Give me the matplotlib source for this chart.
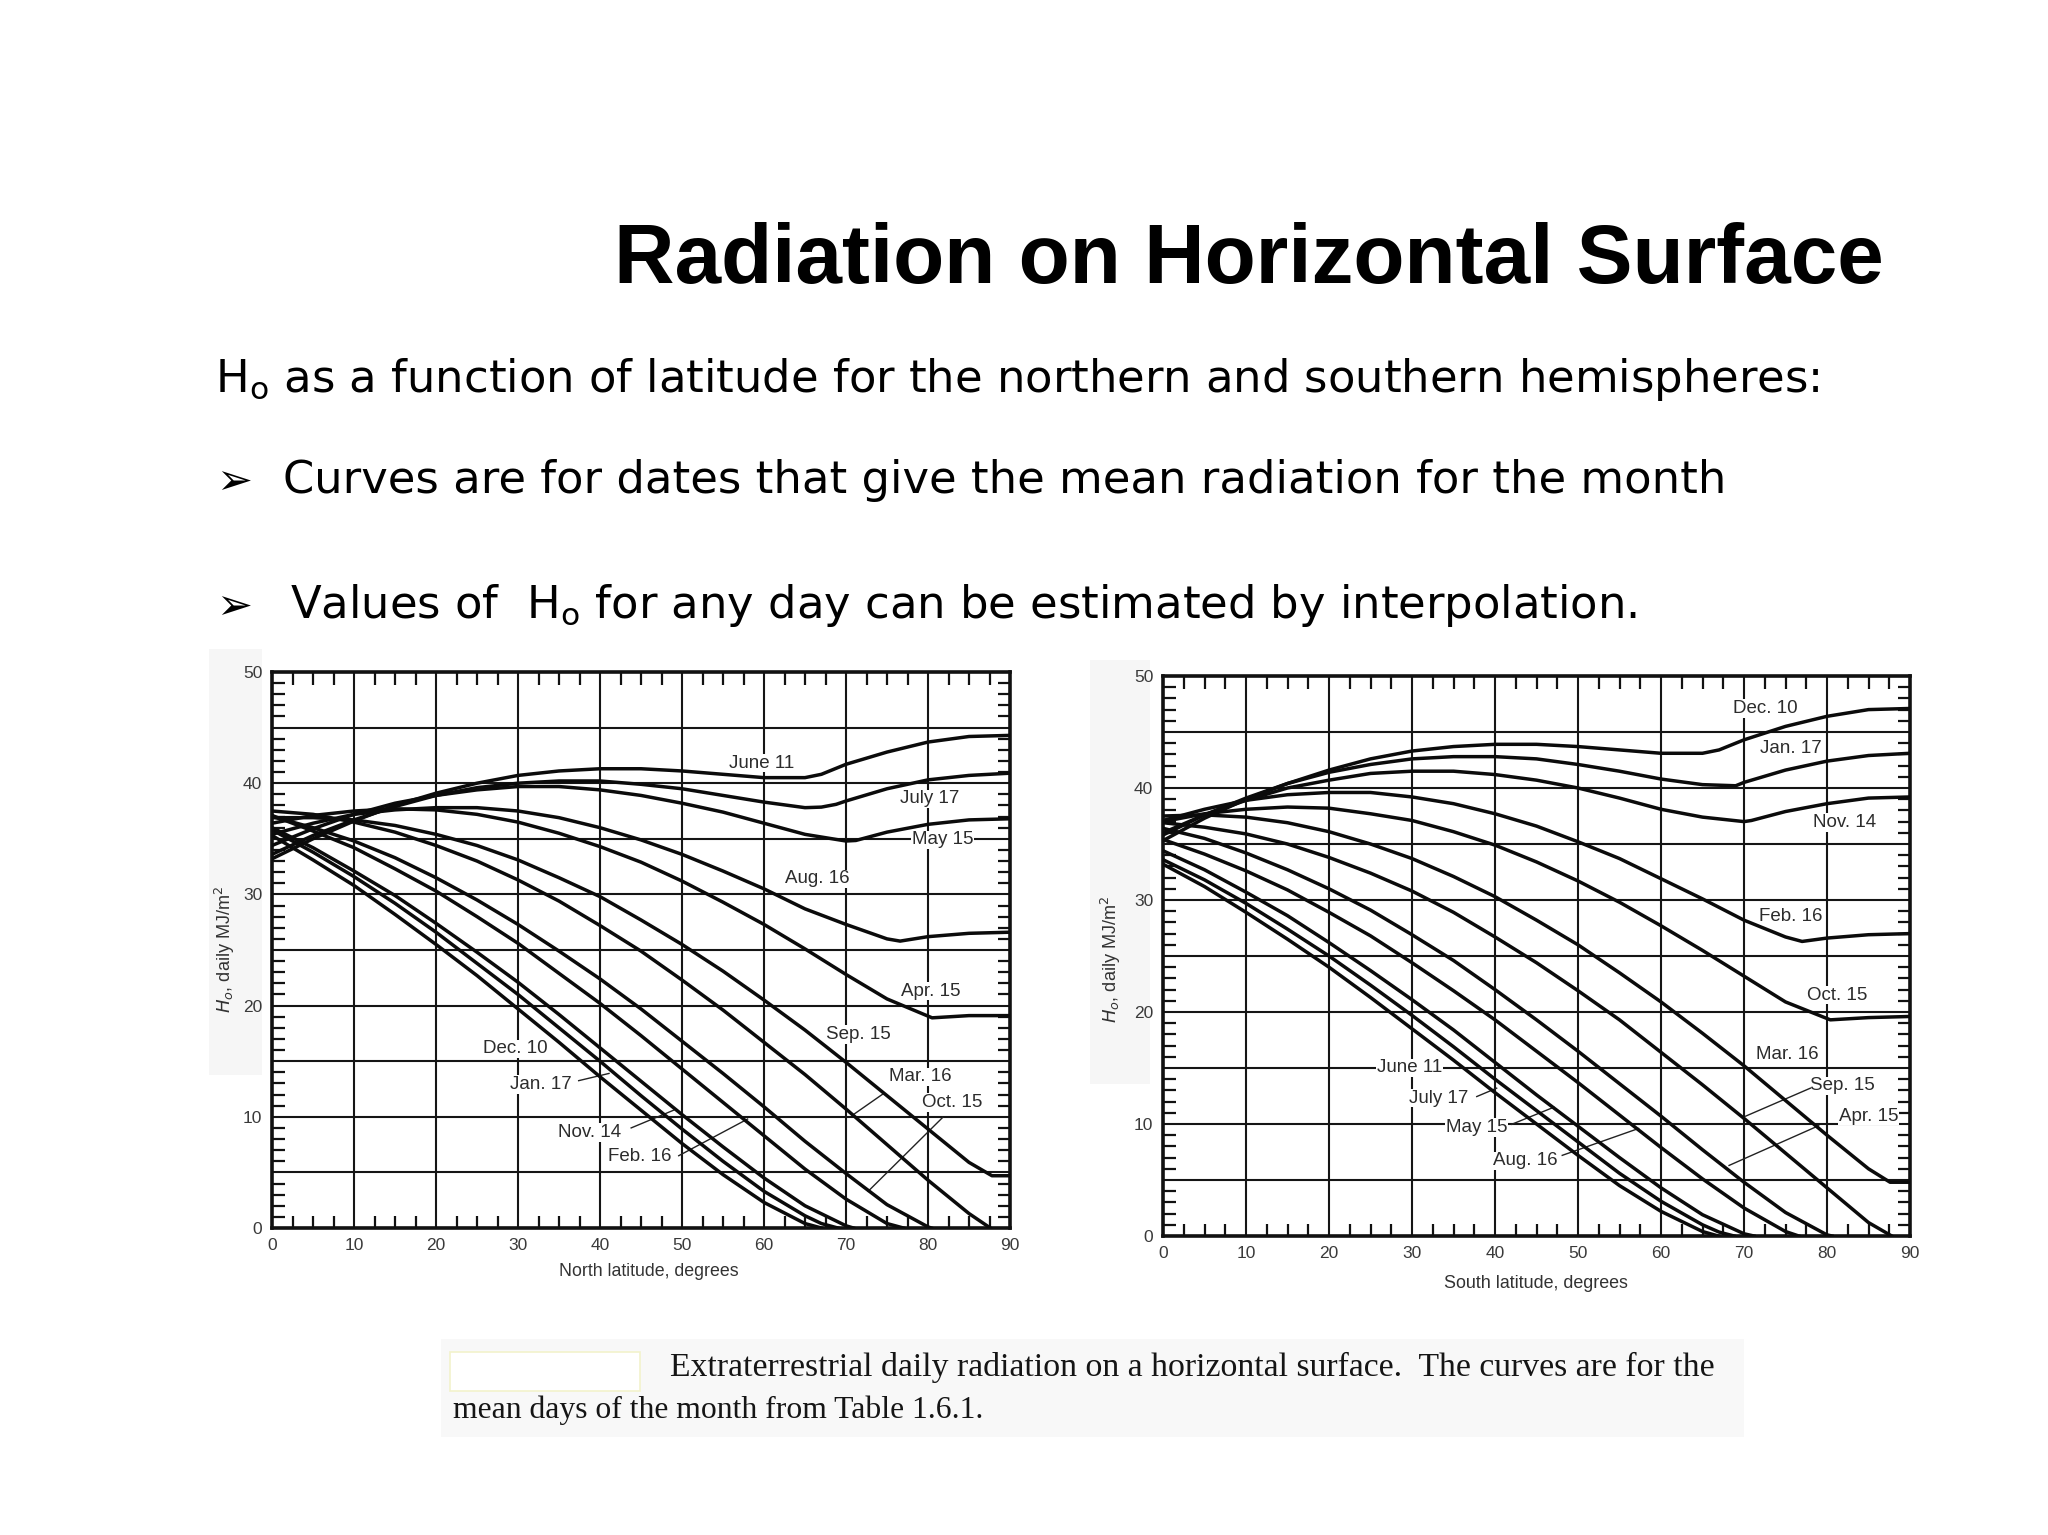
import numpy as np
import matplotlib
matplotlib.use("Agg")
import matplotlib.pyplot as plt
from matplotlib.patches import Rectangle

# ---------------- text content ----------------
title_text = "Radiation on Horizontal Surface"
subtitle_text = "H$_\\mathregular{o}$ as a function of latitude for the northern and southern hemispheres:"
bullet1_text = "Curves are for dates that give the mean radiation for the month"
bullet2_text = "Values of  H$_\\mathregular{o}$ for any day can be estimated by interpolation."
caption_line1 = "Extraterrestrial daily radiation on a horizontal surface.  The curves are for the"
caption_line2 = "mean days of the month from Table 1.6.1."
north_xlabel = "North latitude, degrees"
south_xlabel = "South latitude, degrees"
ylabel_text = "$H_o$, daily MJ/m$^2$"
x_ticks = [0, 10, 20, 30, 40, 50, 60, 70, 80, 90]
y_ticks = [0, 10, 20, 30, 40, 50]

# ---------------- northern hemisphere curves (latitude, H_o MJ/m2) ----------------
n_jun11_lat = [0, 5, 10, 15, 20, 25, 30, 35, 40, 45, 50, 55, 60, 65, 67, 70, 75, 80, 85, 90]
n_jun11_h = [33.2, 35.0, 36.6, 38.0, 39.1, 40.0, 40.7, 41.1, 41.3, 41.3, 41.1, 40.8, 40.5, 40.5, 40.8, 41.7, 42.8, 43.7, 44.2, 44.3]
n_jul17_lat = [0, 5, 10, 15, 20, 25, 30, 35, 40, 45, 50, 55, 60, 65, 67, 68.8, 70, 75, 80, 85, 90]
n_jul17_h = [33.6, 35.3, 36.7, 37.9, 38.9, 39.6, 40.0, 40.2, 40.2, 39.9, 39.5, 38.9, 38.3, 37.8, 37.85, 38.1, 38.4, 39.5, 40.3, 40.7, 40.9]
n_may15_lat = [0, 5, 10, 15, 20, 25, 30, 35, 40, 45, 50, 55, 60, 65, 70, 71.2, 75, 80, 85, 90]
n_may15_h = [34.4, 35.9, 37.2, 38.2, 38.9, 39.4, 39.7, 39.7, 39.4, 38.9, 38.2, 37.4, 36.4, 35.4, 34.8, 34.85, 35.6, 36.3, 36.7, 36.8]
n_aug16_lat = [0, 5, 10, 15, 20, 25, 30, 35, 40, 45, 50, 55, 60, 65, 70, 75, 76.6, 80, 85, 90]
n_aug16_h = [35.4, 36.4, 37.2, 37.6, 37.8, 37.8, 37.5, 36.9, 36.0, 34.9, 33.6, 32.1, 30.5, 28.7, 27.3, 26.0, 25.8, 26.2, 26.5, 26.6]
n_apr15_lat = [0, 5, 10, 15, 20, 25, 30, 35, 40, 45, 50, 55, 60, 65, 70, 75, 80.5, 85, 90]
n_apr15_h = [36.4, 37.1, 37.5, 37.7, 37.6, 37.2, 36.5, 35.5, 34.3, 32.9, 31.2, 29.3, 27.3, 25.1, 22.8, 20.6, 18.9, 19.1, 19.1]
n_sep15_lat = [0, 5, 10, 15, 20, 25, 30, 35, 40, 45, 50, 55, 60, 65, 70, 75, 80, 85, 87.8, 90]
n_sep15_h = [36.9, 36.9, 36.7, 36.2, 35.4, 34.4, 33.1, 31.5, 29.8, 27.7, 25.5, 23.1, 20.5, 17.8, 14.9, 11.9, 8.9, 5.9, 4.7, 4.7]
n_mar16_lat = [0, 5, 10, 15, 20, 25, 30, 35, 40, 45, 50, 55, 60, 65, 70, 75, 80, 85, 87.6]
n_mar16_h = [37.5, 37.2, 36.5, 35.6, 34.4, 33.0, 31.3, 29.4, 27.2, 24.9, 22.3, 19.6, 16.7, 13.8, 10.7, 7.5, 4.3, 1.3, 0.0]
n_oct15_lat = [0, 5, 10, 15, 20, 25, 30, 35, 40, 45, 50, 55, 60, 65, 70, 75, 80, 80.4]
n_oct15_h = [37.0, 36.0, 34.8, 33.3, 31.5, 29.5, 27.3, 24.9, 22.4, 19.7, 16.8, 13.9, 10.9, 7.8, 4.9, 2.1, 0.1, 0.0]
n_feb16_lat = [0, 5, 10, 15, 20, 25, 30, 35, 40, 45, 50, 55, 60, 65, 70, 75, 77]
n_feb16_h = [37.1, 35.7, 34.2, 32.3, 30.3, 28.0, 25.6, 22.9, 20.2, 17.3, 14.3, 11.3, 8.3, 5.3, 2.6, 0.4, 0.0]
n_nov14_lat = [0, 5, 10, 15, 20, 25, 30, 35, 40, 45, 50, 55, 60, 65, 70, 70.9]
n_nov14_h = [36.0, 34.2, 32.1, 29.9, 27.4, 24.8, 22.1, 19.2, 16.2, 13.2, 10.2, 7.3, 4.5, 2.0, 0.2, 0.0]
n_jan17_lat = [0, 5, 10, 15, 20, 25, 30, 35, 40, 45, 50, 55, 60, 65, 67, 69]
n_jan17_h = [35.8, 33.8, 31.6, 29.2, 26.6, 23.8, 21.0, 18.0, 15.0, 11.9, 8.9, 6.0, 3.3, 1.1, 0.4, 0.0]
n_dec10_lat = [0, 5, 10, 15, 20, 25, 30, 35, 40, 45, 50, 55, 60, 65, 67]
n_dec10_h = [35.3, 33.1, 30.8, 28.2, 25.5, 22.7, 19.7, 16.7, 13.6, 10.6, 7.6, 4.8, 2.3, 0.4, 0.0]

# ---------------- southern hemisphere curves ----------------
s_dec10_lat = [0, 5, 10, 15, 20, 25, 30, 35, 40, 45, 50, 55, 60, 65, 67, 70, 75, 80, 85, 90]
s_dec10_h = [35.3, 37.3, 39.0, 40.4, 41.6, 42.6, 43.3, 43.7, 43.9, 43.9, 43.7, 43.4, 43.1, 43.1, 43.4, 44.3, 45.5, 46.4, 47.0, 47.1]
s_jan17_lat = [0, 5, 10, 15, 20, 25, 30, 35, 40, 45, 50, 55, 60, 65, 69, 70, 75, 80, 85, 90]
s_jan17_h = [35.8, 37.6, 39.1, 40.4, 41.4, 42.1, 42.6, 42.8, 42.8, 42.6, 42.1, 41.5, 40.8, 40.3, 40.2, 40.5, 41.6, 42.4, 42.9, 43.1]
s_nov14_lat = [0, 5, 10, 15, 20, 25, 30, 35, 40, 45, 50, 55, 60, 65, 70, 70.9, 75, 80, 85, 90]
s_nov14_h = [36.0, 37.6, 38.9, 40.0, 40.7, 41.3, 41.5, 41.5, 41.2, 40.7, 40.0, 39.1, 38.1, 37.4, 37.0, 37.1, 37.9, 38.6, 39.1, 39.2]
s_feb16_lat = [0, 5, 10, 15, 20, 25, 30, 35, 40, 45, 50, 55, 60, 65, 70, 75, 77, 80, 85, 90]
s_feb16_h = [37.1, 38.1, 38.9, 39.4, 39.6, 39.6, 39.2, 38.6, 37.7, 36.6, 35.2, 33.7, 31.9, 30.1, 28.2, 26.7, 26.3, 26.6, 26.9, 27.0]
s_oct15_lat = [0, 5, 10, 15, 20, 25, 30, 35, 40, 45, 50, 55, 60, 65, 70, 75, 80.4, 85, 90]
s_oct15_h = [37.0, 37.7, 38.1, 38.3, 38.2, 37.7, 37.1, 36.1, 34.9, 33.4, 31.7, 29.8, 27.7, 25.5, 23.2, 20.9, 19.3, 19.5, 19.6]
s_mar16_lat = [0, 5, 10, 15, 20, 25, 30, 35, 40, 45, 50, 55, 60, 65, 70, 75, 80, 85, 87.6, 90]
s_mar16_h = [37.5, 37.6, 37.4, 36.9, 36.1, 35.0, 33.7, 32.1, 30.3, 28.2, 26.0, 23.5, 20.9, 18.1, 15.2, 12.1, 9.0, 6.0, 4.8, 4.8]
s_sep15_lat = [0, 5, 10, 15, 20, 25, 30, 35, 40, 45, 50, 55, 60, 65, 70, 75, 80, 85, 87.8]
s_sep15_h = [36.9, 36.5, 35.9, 35.0, 33.8, 32.4, 30.8, 28.9, 26.7, 24.4, 21.9, 19.3, 16.4, 13.5, 10.5, 7.4, 4.3, 1.2, 0.0]
s_apr15_lat = [0, 5, 10, 15, 20, 25, 30, 35, 40, 45, 50, 55, 60, 65, 70, 75, 80, 80.6]
s_apr15_h = [36.4, 35.5, 34.2, 32.7, 31.0, 29.1, 26.9, 24.6, 22.0, 19.3, 16.5, 13.6, 10.7, 7.7, 4.8, 2.1, 0.1, 0.0]
s_aug16_lat = [0, 5, 10, 15, 20, 25, 30, 35, 40, 45, 50, 55, 60, 65, 70, 75, 76.6]
s_aug16_h = [35.4, 34.1, 32.6, 30.9, 28.9, 26.8, 24.4, 21.9, 19.3, 16.5, 13.7, 10.8, 7.9, 5.1, 2.5, 0.4, 0.0]
s_may15_lat = [0, 5, 10, 15, 20, 25, 30, 35, 40, 45, 50, 55, 60, 65, 70, 71.2]
s_may15_h = [34.4, 32.7, 30.7, 28.6, 26.2, 23.7, 21.1, 18.4, 15.5, 12.6, 9.8, 7.0, 4.3, 1.9, 0.2, 0.0]
s_jul17_lat = [0, 5, 10, 15, 20, 25, 30, 35, 40, 45, 50, 55, 60, 65, 67, 68.8]
s_jul17_h = [33.6, 31.8, 29.7, 27.4, 25.0, 22.4, 19.7, 16.9, 14.0, 11.2, 8.4, 5.6, 3.1, 1.0, 0.35, 0.0]
s_jun11_lat = [0, 5, 10, 15, 20, 25, 30, 35, 40, 45, 50, 55, 60, 65, 66.9]
s_jun11_h = [33.2, 31.2, 28.9, 26.5, 24.0, 21.3, 18.5, 15.7, 12.8, 10.0, 7.2, 4.5, 2.2, 0.4, 0.0]

north_curves = [
    (n_jun11_lat, n_jun11_h), (n_jul17_lat, n_jul17_h), (n_may15_lat, n_may15_h),
    (n_aug16_lat, n_aug16_h), (n_apr15_lat, n_apr15_h), (n_sep15_lat, n_sep15_h),
    (n_mar16_lat, n_mar16_h), (n_oct15_lat, n_oct15_h), (n_feb16_lat, n_feb16_h),
    (n_nov14_lat, n_nov14_h), (n_jan17_lat, n_jan17_h), (n_dec10_lat, n_dec10_h),
]
south_curves = [
    (s_dec10_lat, s_dec10_h), (s_jan17_lat, s_jan17_h), (s_nov14_lat, s_nov14_h),
    (s_feb16_lat, s_feb16_h), (s_oct15_lat, s_oct15_h), (s_mar16_lat, s_mar16_h),
    (s_sep15_lat, s_sep15_h), (s_apr15_lat, s_apr15_h), (s_aug16_lat, s_aug16_h),
    (s_may15_lat, s_may15_h), (s_jul17_lat, s_jul17_h), (s_jun11_lat, s_jun11_h),
]

# curve labels: text, label position, optional leader (from -> to)
north_labels = [
    ("June 11", (59.7, 41.8), None),
    ("July 17", (80.2, 38.6), None),
    ("May 15", (81.8, 34.9), None),
    ("Aug. 16", (66.5, 31.4), None),
    ("Apr. 15", (80.3, 21.3), None),
    ("Sep. 15", (71.5, 17.4), None),
    ("Mar. 16", (79.1, 13.6), ((74.5, 12.05), (71.0, 10.25))),
    ("Oct. 15", (83.0, 11.3), ((81.8, 9.95), (72.7, 3.3))),
    ("Dec. 10", (29.7, 16.1), None),
    ("Jan. 17", (32.8, 12.9), ((37.4, 13.25), (41.1, 13.9))),
    ("Nov. 14", (38.7, 8.6), ((43.8, 9.0), (49.0, 10.6))),
    ("Feb. 16", (44.9, 6.4), ((49.6, 6.5), (58.0, 9.8))),
]
south_labels = [
    ("Dec. 10", (72.6, 47.1), None),
    ("Jan. 17", (75.6, 43.5), None),
    ("Nov. 14", (82.1, 36.9), None),
    ("Feb. 16", (75.6, 28.5), None),
    ("Oct. 15", (81.2, 21.5), None),
    ("Mar. 16", (75.2, 16.2), None),
    ("Sep. 15", (81.8, 13.4), ((78.0, 13.2), (70.2, 10.7))),
    ("Apr. 15", (85.0, 10.7), ((79.0, 9.85), (68.2, 6.3))),
    ("June 11", (29.7, 15.0), None),
    ("July 17", (33.2, 12.3), ((37.8, 12.45), (40.2, 13.2))),
    ("May 15", (37.8, 9.7), ((42.0, 9.97), (47.1, 11.5))),
    ("Aug. 16", (43.6, 6.7), ((48.1, 7.2), (57.3, 9.6))),
]

# ---------------- figure ----------------
W, H = 2048, 1535
plt.rcParams['mathtext.fontset'] = 'dejavusans'
fig = plt.figure(figsize=(W / 100, H / 100), dpi=100)
fig.patch.set_facecolor('white')
renderer = fig.canvas.get_renderer()


def fx(x):
    return x / W


def fy(y):
    return 1 - y / H


def fit_text(x, y, s, length_px, size0=20, **kw):
    t = fig.text(fx(x), fy(y), s, fontsize=size0, **kw)
    bb = t.get_window_extent(renderer=renderer)
    ln = max(bb.width, bb.height) if kw.get('rotation', 0) else bb.width
    t.set_fontsize(size0 * length_px / ln)
    return t


def add_rect(x0, y0, x1, y1, **kw):
    fig.patches.append(Rectangle((fx(x0), fy(y1)), (x1 - x0) / W, (y1 - y0) / H,
                                 transform=fig.transFigure, **kw))


# faint scan backgrounds (behind everything)
add_rect(209, 649, 262, 1075, facecolor='#f6f6f6', edgecolor='none', zorder=-10)
add_rect(1090, 660, 1150, 1084, facecolor='#f6f6f6', edgecolor='none', zorder=-10)
add_rect(441, 1339, 1744, 1437, facecolor='#f8f8f8', edgecolor='none', zorder=-10)
add_rect(450, 1352, 640, 1391, facecolor='white', edgecolor='#f2f2cc', lw=1.2, zorder=-9)

# slide text
body_font = ['DejaVu Sans']
fit_text(614, 283, title_text, 1271, family='Liberation Sans', weight='bold', va='baseline', ha='left')
fit_text(215, 392, subtitle_text, 1603, family=body_font, va='baseline', ha='left')
fig.text(fx(216), fy(494), "\u27a2", fontsize=31, family=body_font, va='baseline', ha='left')
fit_text(283, 493, bullet1_text, 1441, family=body_font, va='baseline', ha='left')
fig.text(fx(216), fy(619), "\u27a2", fontsize=31, family=body_font, va='baseline', ha='left')
fit_text(290, 618, bullet2_text, 1348, family=body_font, va='baseline', ha='left')

# caption
fit_text(670, 1376, caption_line1, 1045, family='Liberation Serif', color='#151515', va='baseline', ha='left')
fit_text(453, 1418, caption_line2, 529, family='Liberation Serif', color='#151515', va='baseline', ha='left')


def make_axes(px_left, px_top, px_right, px_bottom):
    ax = fig.add_axes([fx(px_left), fy(px_bottom), (px_right - px_left) / W, (px_bottom - px_top) / H])
    ax.set_xlim(0, 90)
    ax.set_ylim(0, 50)
    ax.set_xticks(x_ticks)
    ax.set_xticklabels([str(v) for v in x_ticks])
    ax.set_yticks(np.arange(0, 51, 5))
    ax.set_yticklabels([str(v) if v in y_ticks else '' for v in range(0, 51, 5)])
    ax.set_xticks(np.arange(0, 90.01, 2.5), minor=True)
    ax.set_yticks(np.arange(0, 51, 1), minor=True)
    ax.tick_params(which='major', length=0, labelsize=12.5, labelcolor='#3a3a3a', pad=7)
    ax.tick_params(which='minor', direction='in', length=9, width=1.6, color='#111111',
                   top=True, right=True, left=True, bottom=True)
    for lab in ax.get_xticklabels() + ax.get_yticklabels():
        lab.set_family('Liberation Sans')
    ax.grid(which='major', color='#151515', lw=1.5)
    ax.set_axisbelow(True)
    for sp in ax.spines.values():
        sp.set_linewidth(2.6)
        sp.set_color('#111111')
    return ax


def draw_chart(ax, curves, labels):
    for lat, h in curves:
        ax.plot(lat, h, color='#0b0b0b', lw=2.5, solid_joinstyle='round', zorder=3)
    for txt, (lx, ly), leader in labels:
        ax.text(lx, ly, txt, ha='center', va='center', fontsize=13.5, family='Liberation Sans',
                color='#2c2c2c', zorder=2.5,
                bbox=dict(facecolor='white', edgecolor='none', pad=0.6))
        if leader is not None:
            (x0, y0), (x1, y1) = leader
            ax.plot([x0, x1], [y0, y1], color='#222222', lw=1.0, zorder=2.6)


ax_n = make_axes(272, 672, 1010, 1228)
draw_chart(ax_n, north_curves, north_labels)
ax_s = make_axes(1163, 676, 1910, 1236)
draw_chart(ax_s, south_curves, south_labels)

# axis titles
fit_text(649, 1271, north_xlabel, 179, family='Liberation Sans', color='#333333', ha='center', va='center')
fit_text(1536, 1284, south_xlabel, 183, family='Liberation Sans', color='#333333', ha='center', va='center')
fit_text(225, 949, ylabel_text, 127, family='Liberation Sans', color='#333333', ha='center', va='center', rotation=90)
fit_text(1111, 959, ylabel_text, 127, family='Liberation Sans', color='#333333', ha='center', va='center', rotation=90)

fig.savefig("out.png", dpi=100, facecolor='white')
